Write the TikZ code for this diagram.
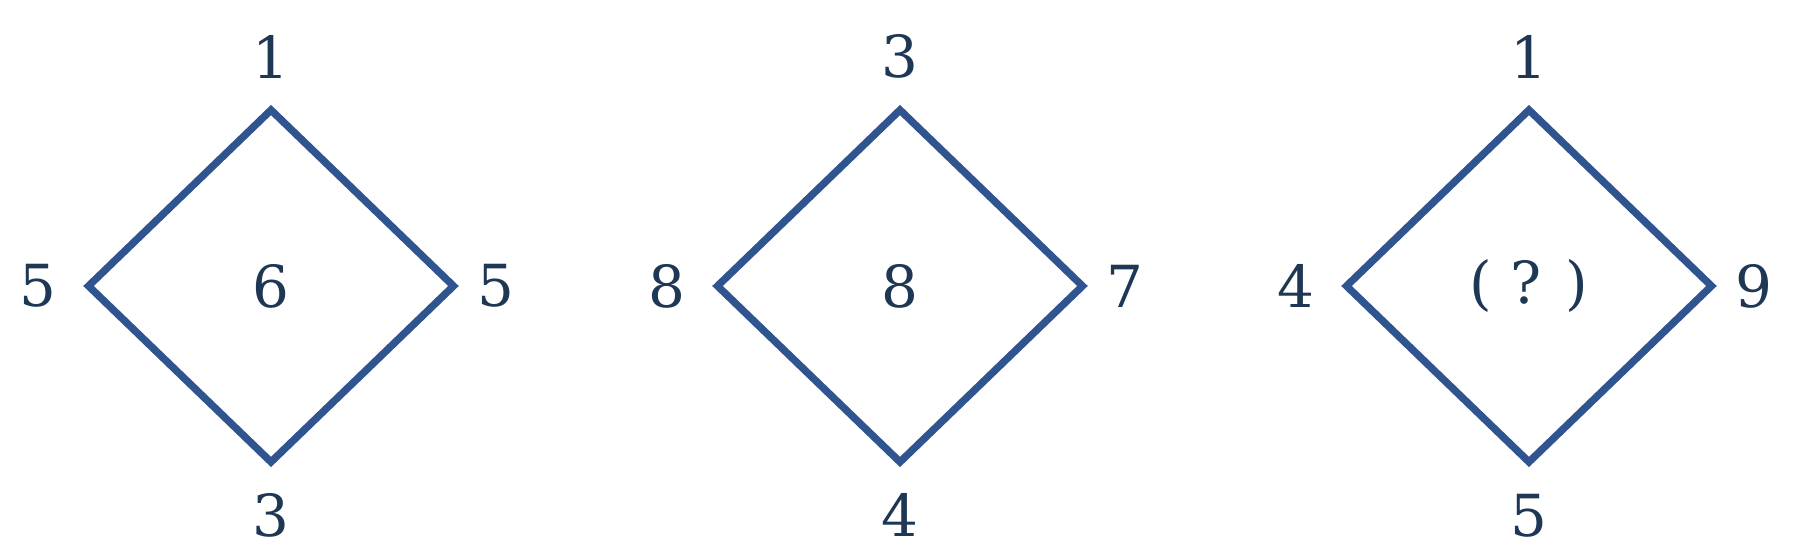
\documentclass[tikz,border=0pt]{standalone}
\usepackage{fontspec}
\setmainfont{DejaVu Serif}
\usetikzlibrary{shapes.geometric,positioning}
\definecolor{rimblue}{RGB}{47,84,143}
\definecolor{numblue}{RGB}{30,55,85}

\begin{document}
\begin{tikzpicture}[node distance=0.26cm,font=\fontsize{16.5}{20}\selectfont]
  \tikzstyle{rhomb}=[diamond,draw=rimblue,line width=2.1pt,inner sep=0pt,minimum width=3.68cm,minimum height=3.55cm,text=numblue]
  \tikzstyle{num}=[inner sep=0pt,text=numblue]
  \useasboundingbox (0,0) rectangle (17.94,5.57);
  \node[rhomb] (d1) at (2.71,2.71) {6};
  \node[rhomb] (d2) at (9.00,2.71) {8};
  \node[rhomb] (d3) at (15.29,2.71) {( ? )};
  % first
  \node[num] (t1) [above=of d1.north] {1};
  \node[num] (b1) [below=of d1.south] {3};
  \node[num] (l1) [left=of d1.west] {5};
  \node[num] (r1) [right=0.18cm of d1.east] {5};
  % second
  \node[num] (t2) [above=of d2.north] {3};
  \node[num] (b2) [below=of d2.south] {4};
  \node[num] (l2) [left=of d2.west] {8};
  \node[num] (r2) [right=0.18cm of d2.east] {7};
  % third
  \node[num] (t3) [above=of d3.north] {1};
  \node[num] (b3) [below=of d3.south] {5};
  \node[num] (l3) [left=of d3.west] {4};
  \node[num] (r3) [right=0.18cm of d3.east] {9};
\end{tikzpicture}
\end{document}
